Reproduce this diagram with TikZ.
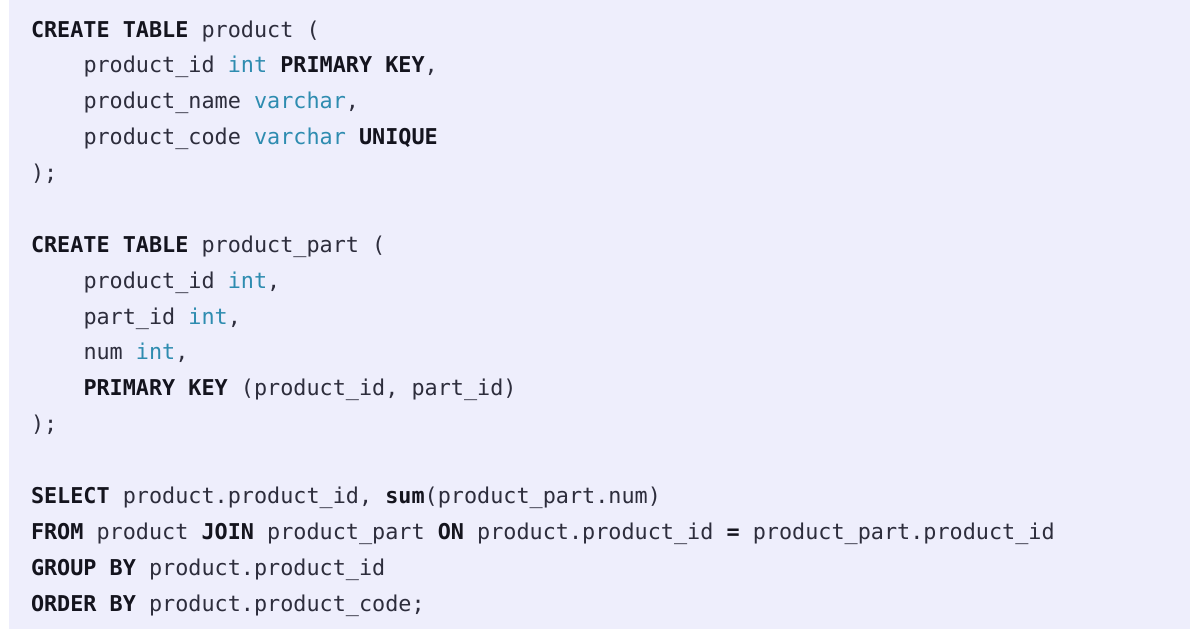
\documentclass[tikz,border=0pt]{standalone}
\usepackage{fontspec}
\setmonofont{DejaVu Sans Mono}
\definecolor{bgc}{RGB}{238,238,252}
\definecolor{kw}{RGB}{20,20,30}
\definecolor{ty}{RGB}{46,140,176}
\definecolor{tx}{RGB}{45,45,60}
\newcommand{\K}[1]{\textcolor{kw}{\bfseries #1}}
\newcommand{\T}[1]{\textcolor{ty}{#1}}
\begin{document}
\begin{tikzpicture}[x=1pt,y=-1pt,
  codeline/.style={anchor=base west,inner sep=0pt,outer sep=0pt,text=tx,
    font=\ttfamily\fontsize{21.8pt}{26pt}\selectfont}]
\useasboundingbox (0,0) rectangle (1200,629);
\fill[bgc] (9,0) rectangle (1190,629);
\def\bl{37}
\def\ls{35.875}
\def\xa{31}
\def\xb{83.5}
\node[codeline] (l1) at (\xa,{\bl+0*\ls}) {\K{CREATE TABLE} product (};
\node[codeline] (l2) at (\xb,{\bl+1*\ls}) {product\_id \T{int} \K{PRIMARY KEY},};
\node[codeline] (l3) at (\xb,{\bl+2*\ls}) {product\_name \T{varchar},};
\node[codeline] (l4) at (\xb,{\bl+3*\ls}) {product\_code \T{varchar} \K{UNIQUE}};
\node[codeline] (l5) at (\xa,{\bl+4*\ls}) {);};
\node[codeline] (l6) at (\xa,{\bl+6*\ls}) {\K{CREATE TABLE} product\_part (};
\node[codeline] (l7) at (\xb,{\bl+7*\ls}) {product\_id \T{int},};
\node[codeline] (l8) at (\xb,{\bl+8*\ls}) {part\_id \T{int},};
\node[codeline] (l9) at (\xb,{\bl+9*\ls}) {num \T{int},};
\node[codeline] (l10) at (\xb,{\bl+10*\ls}) {\K{PRIMARY KEY} (product\_id, part\_id)};
\node[codeline] (l11) at (\xa,{\bl+11*\ls}) {);};
\node[codeline] (l12) at (\xa,{\bl+13*\ls}) {\K{SELECT} product.product\_id, \K{sum}(product\_part.num)};
\node[codeline] (l13) at (\xa,{\bl+14*\ls}) {\K{FROM} product \K{JOIN} product\_part \K{ON} product.product\_id \K{=} product\_part.product\_id};
\node[codeline] (l14) at (\xa,{\bl+15*\ls}) {\K{GROUP BY} product.product\_id};
\node[codeline] (l15) at (\xa,{\bl+16*\ls}) {\K{ORDER BY} product.product\_code;};
\end{tikzpicture}
\end{document}
